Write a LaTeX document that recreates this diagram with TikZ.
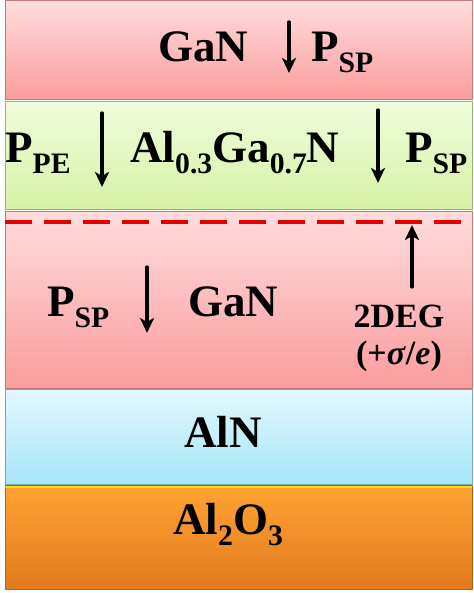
\documentclass[tikz,border=0pt]{standalone}
\usepackage{fontspec}
\setmainfont{Liberation Serif}
\usetikzlibrary{arrows,arrows.meta}

\definecolor{ganTop}{HTML}{FFDCDC}
\definecolor{ganBot}{HTML}{FA9C9C}
\definecolor{ganEdge}{HTML}{C07878}
\definecolor{alganTop}{HTML}{F0FCDC}
\definecolor{alganBot}{HTML}{D6F2A6}
\definecolor{alganEdge}{HTML}{98B078}
\definecolor{alnTop}{HTML}{E2F8FF}
\definecolor{alnBot}{HTML}{A4E6F8}
\definecolor{alnEdge}{HTML}{78A8B8}
\definecolor{aloTop}{HTML}{FFA232}
\definecolor{aloBot}{HTML}{E27A1E}
\definecolor{aloEdge}{HTML}{B06018}

\newcommand{\lsub}[1]{\raisebox{-0.24em}{\fontsize{0.66em}{0.7em}\selectfont #1}}

\begin{document}
\begin{tikzpicture}[line cap=round,line join=round,>={Stealth[length=15bp,width=14bp,inset=4bp]},x=1bp,y=1bp,
  lbl/.style={font=\fontsize{45bp}{48bp}\selectfont\bfseries, inner sep=0pt},
  small/.style={font=\fontsize{34bp}{38bp}\selectfont\bfseries, inner sep=0pt},
  parr/.style={->, line width=3.2bp},
  gan/.style={top color=ganTop, bottom color=ganBot, draw=ganEdge, line width=1bp},
  algan/.style={top color=alganTop, bottom color=alganBot, draw=alganEdge, line width=1bp},
  aln/.style={top color=alnTop, bottom color=alnBot, draw=alnEdge, line width=1bp},
  sapph/.style={top color=aloTop, bottom color=aloBot, draw=aloEdge, line width=1bp}]
\useasboundingbox[fill=white] (0,0) rectangle (474,593);
% layers
\shade[gan] (5,493) rectangle (472,592);
\shade[algan] (5,383) rectangle (472,491);
\shade[gan] (5,204) rectangle (472,381);
\shade[aln] (5,108) rectangle (472,203);
\shade[sapph] (5,3) rectangle (472,107);
\draw[yellow!80!orange, line width=2bp] (6,106) -- (471,106);
% 2DEG
\draw[red!90!black, line width=3.2bp, dash pattern=on 27bp off 12bp, line cap=butt] (5,371) -- (472,371);
\coordinate (deg) at (412,368);
% top GaN
\node[lbl, anchor=base] (gantop) at (203,531) {GaN};
\draw[parr] (289,571) -- (289,520);
\node[lbl, anchor=base west] (psptop) at (311,531) {P\lsub{SP}};
% AlGaN
\node[lbl, anchor=base west] (ppe) at (5,430) {P\lsub{PE}};
\draw[parr] (102,480) -- (102,406);
\node[lbl, anchor=base west] (algan) at (130,430) {Al\lsub{0.3}Ga\lsub{0.7}N};
\draw[parr] (378,483) -- (378,410);
\node[lbl, anchor=base west] (pspmid) at (405,430) {P\lsub{SP}};
% GaN buffer
\node[lbl, anchor=base west] (pspbot) at (47,276) {P\lsub{SP}};
\draw[parr] (147,326) -- (147,260);
\node[lbl, anchor=base west] (ganbuf) at (188,276) {GaN};
\node[small, anchor=base] (tdeg) at (399,265) {2DEG};
\node[small, anchor=base] (sigma) at (399,228) {(+\textit{σ}/\textit{e})};
\draw[parr] (412,306) -- (deg);
% substrate
\node[lbl, anchor=base] (aln) at (223,145) {AlN};
\node[lbl, anchor=base] (alo) at (228,58) {Al\lsub{2}O\lsub{3}};
\end{tikzpicture}
\end{document}
